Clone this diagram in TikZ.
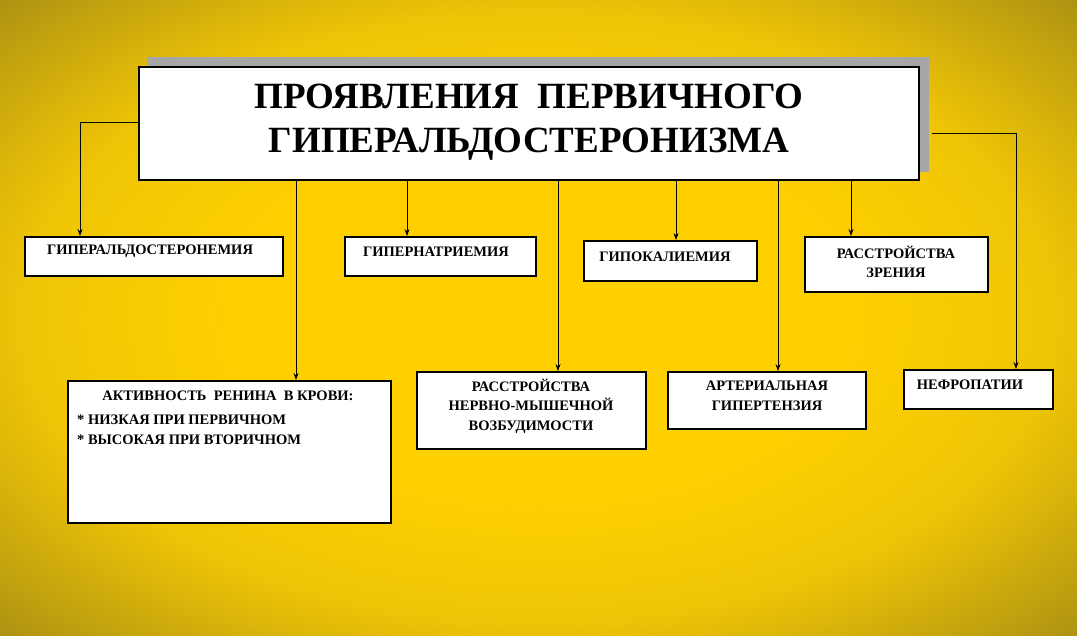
\documentclass[tikz,border=0pt]{standalone}
\usepackage{fontspec}
\setmainfont{Liberation Serif}
\usetikzlibrary{arrows.meta}
\definecolor{gin}{RGB}{255,208,0}
\definecolor{gmid}{RGB}{238,196,6}
\definecolor{gout}{RGB}{165,140,20}
\begin{document}
\begin{tikzpicture}[x=1pt,y=-1pt,
  bx/.style={draw=black,line width=2pt,fill=white},
  lbl/.style={font=\bfseries\fontsize{14.5}{19.5}\selectfont,align=center,inner sep=0},
  con/.style={draw=black,line width=0.7pt,-{Stealth[length=7pt,width=5pt]}}]
\useasboundingbox (0,0) rectangle (1077,635);
\pgfdeclareradialshading{bgsh}{\pgfpoint{0cm}{0cm}}{color(0cm)=(gin); color(0.5cm)=(gin); color(0.85cm)=(gmid); color(1.3cm)=(gout)}
\shade[shading=bgsh] (0,0) rectangle (1077,635);
\fill[gray!70] (147,57) rectangle (929,172);
\draw[bx,line width=2.5pt] (139,67) rectangle (919,180);
\node[font=\bfseries\fontsize{37}{44}\selectfont,align=center] (t) at (529,122) {ПРОЯВЛЕНИЯ~ ПЕРВИЧНОГО\\ГИПЕРАЛЬДОСТЕРОНИЗМА};
\draw[bx] (25,237) rectangle (283,276); \node[lbl] (b1) at (150,251) {ГИПЕРАЛЬДОСТЕРОНЕМИЯ};
\draw[bx] (345,237) rectangle (536,276); \node[lbl] (b2) at (436,252) {ГИПЕРНАТРИЕМИЯ};
\draw[bx] (584,241) rectangle (757,281); \node[lbl] (b3) at (665,257) {ГИПОКАЛИЕМИЯ};
\draw[bx] (805,237) rectangle (988,292); \node[lbl] (b4) at (896,262) {РАССТРОЙСТВА\\ЗРЕНИЯ};
\draw[bx] (68,381) rectangle (391,523);
\node[lbl] (b5) at (228,396) {АКТИВНОСТЬ~ РЕНИНА~ В КРОВИ:};
\node[lbl,align=left,anchor=north west] (b5b) at (77,415) {* НИЗКАЯ ПРИ ПЕРВИЧНОМ\\* ВЫСОКАЯ ПРИ ВТОРИЧНОМ};
\draw[bx] (417,372) rectangle (646,449); \node[lbl] (b6) at (531,406) {РАССТРОЙСТВА\\НЕРВНО-МЫШЕЧНОЙ\\ВОЗБУДИМОСТИ};
\draw[bx] (668,372) rectangle (866,429); \node[lbl] (b7) at (767,396) {АРТЕРИАЛЬНАЯ\\ГИПЕРТЕНЗИЯ};
\draw[bx] (904,370) rectangle (1053,409); \node[lbl] (b8) at (970,385) {НЕФРОПАТИИ};
\coordinate (s1) at (139,122); \coordinate (e1) at (80,236);
\draw[con] (s1) -- (80,122) -- (e1);
\coordinate (s2) at (296,181); \coordinate (e2) at (296,380); \draw[con] (s2) -- (e2);
\coordinate (s3) at (407,181); \coordinate (e3) at (407,236); \draw[con] (s3) -- (e3);
\coordinate (s4) at (558,181); \coordinate (e4) at (558,371); \draw[con] (s4) -- (e4);
\coordinate (s5) at (676,181); \coordinate (e5) at (676,240); \draw[con] (s5) -- (e5);
\coordinate (s6) at (778,181); \coordinate (e6) at (778,371); \draw[con] (s6) -- (e6);
\coordinate (s7) at (851,181); \coordinate (e7) at (851,236); \draw[con] (s7) -- (e7);
\coordinate (s8) at (932,133); \coordinate (e8) at (1016,369);
\draw[con] (s8) -- (1016,133) -- (e8);
\end{tikzpicture}
\end{document}
